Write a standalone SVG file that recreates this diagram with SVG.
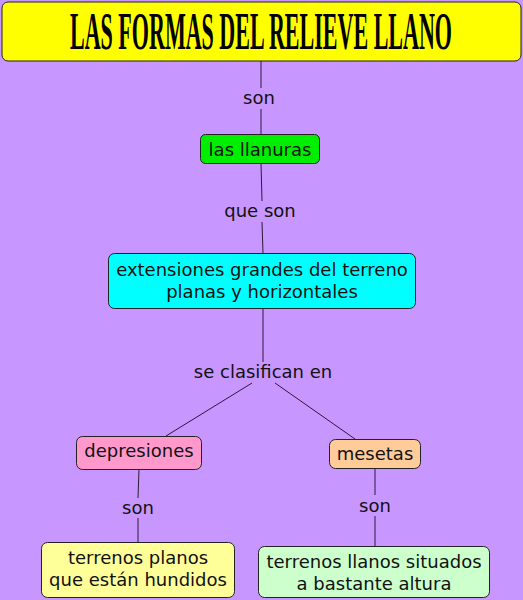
<svg xmlns="http://www.w3.org/2000/svg" width="523" height="600" viewBox="0 0 523 600">
<style>
.n{stroke:#222;stroke-width:1}
.t{font-family:"DejaVu Sans",Verdana,sans-serif;font-size:18px;fill:#111;text-anchor:middle}
.l{font-family:"DejaVu Sans",Verdana,sans-serif;font-size:18px;fill:#111;text-anchor:middle}
.c{stroke:#2a1a3a;stroke-width:1;fill:none}
</style>
<rect width="523" height="600" fill="#C896FF"/>
<g id="connectors">
<line class="c" x1="261" y1="61" x2="261" y2="88"/>
<line class="c" x1="261" y1="109" x2="261" y2="134"/>
<line class="c" x1="261" y1="163" x2="262" y2="201"/>
<line class="c" x1="262" y1="222" x2="263" y2="253"/>
<line class="c" x1="263" y1="308" x2="263" y2="362"/>
<line class="c" x1="252" y1="383" x2="166" y2="436"/>
<line class="c" x1="275" y1="383" x2="355" y2="439"/>
<line class="c" x1="139" y1="469" x2="138" y2="498"/>
<line class="c" x1="138" y1="518" x2="138" y2="542"/>
<line class="c" x1="375" y1="468" x2="375" y2="495"/>
<line class="c" x1="375" y1="516" x2="375" y2="546"/>
<text class="l" x="259" y="104">son</text>
<text class="l" x="260" y="217">que son</text>
<text class="l" x="263" y="378">se clasifican en</text>
<text class="l" x="138" y="514">son</text>
<text class="l" x="375" y="512">son</text>
</g>
<g id="title">
<rect class="n" x="2" y="2" width="519" height="59" rx="6" fill="#FFFF00"/>
<text x="261" y="24.75" transform="scale(1,2)" font-family="'Liberation Serif','DejaVu Serif',serif" font-weight="bold" font-size="26" text-anchor="middle" textLength="382" lengthAdjust="spacingAndGlyphs" fill="#000">LAS FORMAS DEL RELIEVE LLANO</text>
</g>
<g id="llanuras">
<rect class="n" x="200.5" y="134.5" width="119" height="29" rx="5" fill="#00EE00"/>
<text class="t" x="260" y="156">las llanuras</text>
</g>
<g id="extensiones">
<rect class="n" x="108.5" y="253.5" width="307" height="55" rx="6" fill="#00FFFF"/>
<text class="t" x="262" y="276">extensiones grandes del terreno</text>
<text class="t" x="262" y="298">planas y horizontales</text>
</g>
<g id="depresiones">
<rect class="n" x="76.5" y="436.5" width="125" height="33" rx="6" fill="#FF99CC"/>
<text class="t" x="139" y="457">depresiones</text>
</g>
<g id="mesetas">
<rect class="n" x="329.5" y="439.5" width="91" height="29" rx="6" fill="#FFCC99"/>
<text class="t" x="375" y="460">mesetas</text>
</g>
<g id="hundidos">
<rect class="n" x="41.5" y="542.5" width="193" height="55" rx="6" fill="#FFFF99"/>
<text class="t" x="138" y="564">terrenos planos</text>
<text class="t" x="138" y="586">que están hundidos</text>
</g>
<g id="altura">
<rect class="n" x="258.5" y="546.5" width="231" height="51" rx="6" fill="#CCFFCC"/>
<text class="t" x="374" y="568">terrenos llanos situados</text>
<text class="t" x="374" y="590">a bastante altura</text>
</g>
</svg>
